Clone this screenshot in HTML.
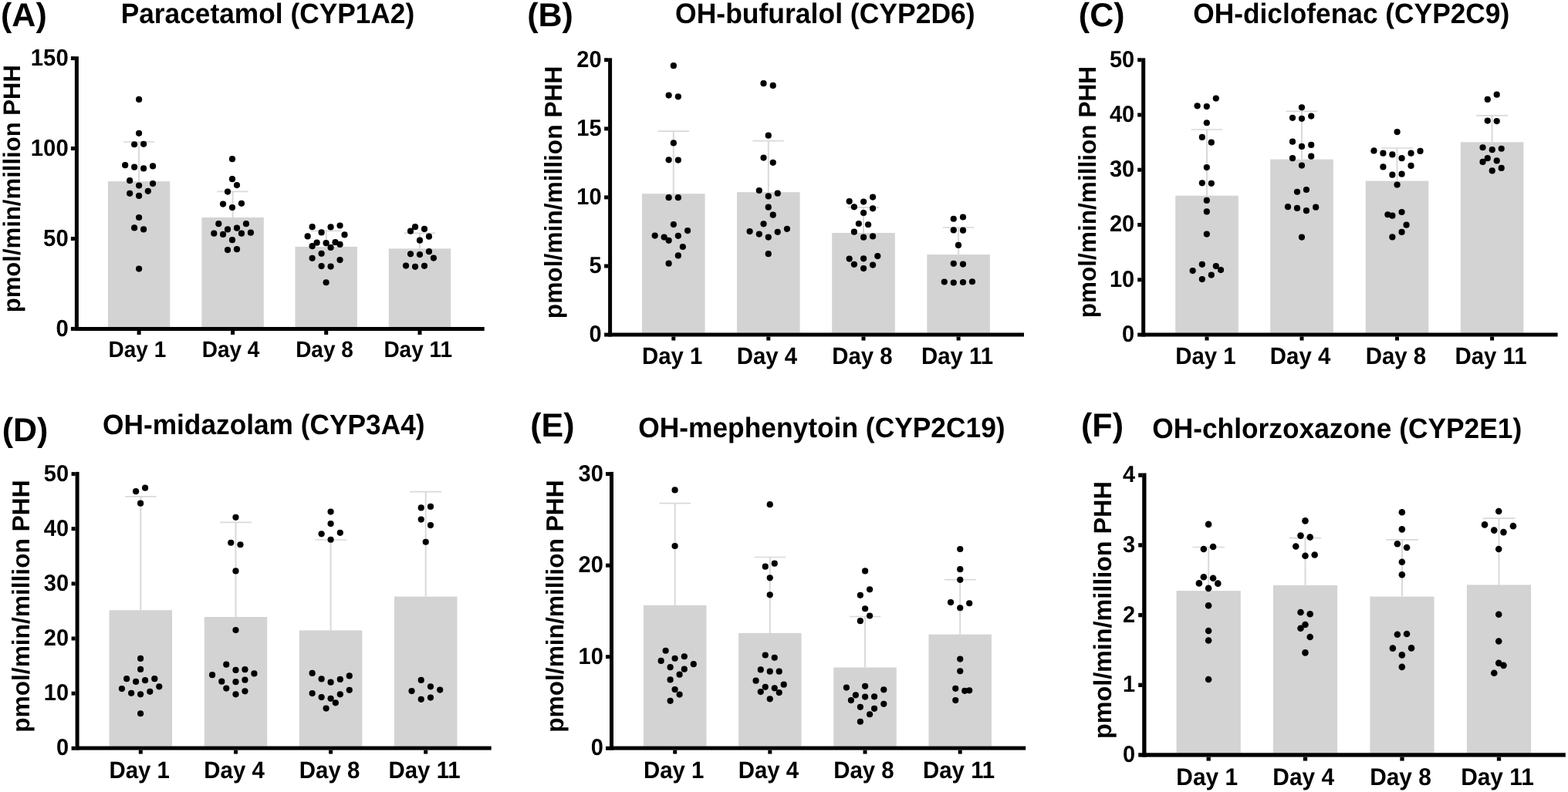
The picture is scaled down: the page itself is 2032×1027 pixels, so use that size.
<!DOCTYPE html>
<html><head><meta charset="utf-8"><style>
html,body{margin:0;padding:0;background:#fff;overflow:hidden}
svg{display:block}
text{font-family:"Liberation Sans", Arial, Helvetica, sans-serif;font-weight:bold;fill:#000;text-rendering:geometricPrecision}
</style></head><body>
<svg width="2032" height="1027" viewBox="0 0 2032 1027">
<rect width="2032" height="1027" fill="#fff"/>
<rect x="139.90" y="235.20" width="80.40" height="188.80" fill="#d3d3d3"/>
<rect x="261.40" y="282.00" width="80.40" height="142.00" fill="#d3d3d3"/>
<rect x="382.50" y="319.90" width="80.40" height="104.10" fill="#d3d3d3"/>
<rect x="503.80" y="322.40" width="80.40" height="101.60" fill="#d3d3d3"/>
<line x1="180.10" y1="235.20" x2="180.10" y2="184.00" stroke="#d9d9d9" stroke-width="2"/>
<line x1="160.00" y1="184.00" x2="200.20" y2="184.00" stroke="#d9d9d9" stroke-width="1.7"/>
<line x1="301.60" y1="282.00" x2="301.60" y2="248.30" stroke="#d9d9d9" stroke-width="2"/>
<line x1="281.50" y1="248.30" x2="321.70" y2="248.30" stroke="#d9d9d9" stroke-width="1.7"/>
<line x1="422.70" y1="319.90" x2="422.70" y2="299.30" stroke="#d9d9d9" stroke-width="2"/>
<line x1="402.60" y1="299.30" x2="442.80" y2="299.30" stroke="#d9d9d9" stroke-width="1.7"/>
<line x1="544.00" y1="322.40" x2="544.00" y2="302.40" stroke="#d9d9d9" stroke-width="2"/>
<line x1="523.90" y1="302.40" x2="564.10" y2="302.40" stroke="#d9d9d9" stroke-width="1.7"/>
<circle cx="180.10" cy="128.94" r="4.1"/>
<circle cx="180.10" cy="172.82" r="4.1"/>
<circle cx="174.12" cy="187.27" r="4.1"/>
<circle cx="186.09" cy="186.78" r="4.1"/>
<circle cx="162.16" cy="214.19" r="4.1"/>
<circle cx="174.12" cy="216.69" r="4.1"/>
<circle cx="186.09" cy="218.43" r="4.1"/>
<circle cx="198.05" cy="215.44" r="4.1"/>
<circle cx="168.14" cy="234.14" r="4.1"/>
<circle cx="180.10" cy="240.62" r="4.1"/>
<circle cx="198.05" cy="238.12" r="4.1"/>
<circle cx="168.14" cy="250.84" r="4.1"/>
<circle cx="180.10" cy="253.83" r="4.1"/>
<circle cx="191.82" cy="247.85" r="4.1"/>
<circle cx="180.10" cy="282.00" r="4.1"/>
<circle cx="174.12" cy="295.46" r="4.1"/>
<circle cx="186.09" cy="297.45" r="4.1"/>
<circle cx="180.10" cy="348.55" r="4.1"/>
<circle cx="301.00" cy="206.22" r="4.1"/>
<circle cx="301.00" cy="232.14" r="4.1"/>
<circle cx="306.98" cy="240.12" r="4.1"/>
<circle cx="295.02" cy="248.59" r="4.1"/>
<circle cx="289.03" cy="264.55" r="4.1"/>
<circle cx="301.00" cy="269.03" r="4.1"/>
<circle cx="312.96" cy="263.80" r="4.1"/>
<circle cx="283.30" cy="290.22" r="4.1"/>
<circle cx="295.02" cy="297.45" r="4.1"/>
<circle cx="306.98" cy="295.71" r="4.1"/>
<circle cx="318.95" cy="290.22" r="4.1"/>
<circle cx="277.32" cy="302.69" r="4.1"/>
<circle cx="289.03" cy="303.93" r="4.1"/>
<circle cx="312.96" cy="302.69" r="4.1"/>
<circle cx="324.93" cy="301.69" r="4.1"/>
<circle cx="301.00" cy="311.16" r="4.1"/>
<circle cx="295.02" cy="324.12" r="4.1"/>
<circle cx="306.98" cy="323.13" r="4.1"/>
<circle cx="404.65" cy="294.22" r="4.1"/>
<circle cx="428.58" cy="294.47" r="4.1"/>
<circle cx="440.54" cy="292.48" r="4.1"/>
<circle cx="416.61" cy="301.45" r="4.1"/>
<circle cx="398.67" cy="306.44" r="4.1"/>
<circle cx="446.53" cy="304.44" r="4.1"/>
<circle cx="410.63" cy="314.66" r="4.1"/>
<circle cx="422.60" cy="315.16" r="4.1"/>
<circle cx="434.56" cy="314.17" r="4.1"/>
<circle cx="404.65" cy="319.15" r="4.1"/>
<circle cx="428.58" cy="320.90" r="4.1"/>
<circle cx="440.54" cy="316.91" r="4.1"/>
<circle cx="416.61" cy="328.87" r="4.1"/>
<circle cx="404.65" cy="334.85" r="4.1"/>
<circle cx="440.54" cy="337.10" r="4.1"/>
<circle cx="416.61" cy="345.07" r="4.1"/>
<circle cx="428.58" cy="345.57" r="4.1"/>
<circle cx="422.60" cy="366.26" r="4.1"/>
<circle cx="538.01" cy="294.22" r="4.1"/>
<circle cx="532.03" cy="299.71" r="4.1"/>
<circle cx="549.97" cy="296.97" r="4.1"/>
<circle cx="555.96" cy="306.69" r="4.1"/>
<circle cx="543.99" cy="311.67" r="4.1"/>
<circle cx="532.03" cy="329.37" r="4.1"/>
<circle cx="543.99" cy="330.12" r="4.1"/>
<circle cx="555.96" cy="326.13" r="4.1"/>
<circle cx="561.94" cy="334.61" r="4.1"/>
<circle cx="526.04" cy="344.58" r="4.1"/>
<circle cx="538.01" cy="345.82" r="4.1"/>
<circle cx="549.97" cy="344.83" r="4.1"/>
<rect x="96.90" y="73.20" width="5.00" height="355.80" fill="#000"/>
<rect x="96.90" y="424.00" width="530.80" height="5.00" fill="#000"/>
<rect x="91.90" y="423.90" width="5.00" height="5.00" fill="#000"/>
<text transform="translate(72.41,435.80) scale(1,1.04)" font-size="29.3">0</text>
<rect x="91.90" y="307.00" width="5.00" height="5.00" fill="#000"/>
<text transform="translate(56.11,318.90) scale(1,1.04)" font-size="29.3">50</text>
<rect x="91.90" y="190.00" width="5.00" height="5.00" fill="#000"/>
<text transform="translate(39.82,201.90) scale(1,1.04)" font-size="29.3">100</text>
<rect x="91.90" y="73.10" width="5.00" height="5.00" fill="#000"/>
<text transform="translate(39.82,85.00) scale(1,1.04)" font-size="29.3">150</text>
<rect x="177.60" y="429.00" width="5.00" height="5.00" fill="#000"/>
<text transform="translate(140.50,463.30) scale(1,1.05)" font-size="28">Day 1</text>
<rect x="299.10" y="429.00" width="5.00" height="5.00" fill="#000"/>
<text transform="translate(261.68,463.30) scale(1,1.05)" font-size="28">Day 4</text>
<rect x="420.20" y="429.00" width="5.00" height="5.00" fill="#000"/>
<text transform="translate(383.13,463.30) scale(1,1.05)" font-size="28">Day 8</text>
<rect x="541.50" y="429.00" width="5.00" height="5.00" fill="#000"/>
<text transform="translate(497.39,463.30) scale(1,1.05)" font-size="28">Day 11</text>
<text x="1.05" y="34.10" font-size="43">(A)</text>
<text transform="translate(156.67,30.00) scale(1,1.035)" font-size="35.3">Paracetamol (CYP1A2)</text>
<text transform="translate(25.80,405.32) rotate(-90) scale(1,1.0)" font-size="31.1">pmol/min/million PHH</text>
<rect x="832.00" y="251.20" width="81.60" height="180.30" fill="#d3d3d3"/>
<rect x="955.00" y="249.20" width="81.60" height="182.30" fill="#d3d3d3"/>
<rect x="1078.20" y="302.00" width="81.60" height="129.50" fill="#d3d3d3"/>
<rect x="1201.30" y="330.10" width="81.60" height="101.40" fill="#d3d3d3"/>
<line x1="872.80" y1="251.20" x2="872.80" y2="170.20" stroke="#d9d9d9" stroke-width="2"/>
<line x1="852.40" y1="170.20" x2="893.20" y2="170.20" stroke="#d9d9d9" stroke-width="1.7"/>
<line x1="995.80" y1="249.20" x2="995.80" y2="182.70" stroke="#d9d9d9" stroke-width="2"/>
<line x1="975.40" y1="182.70" x2="1016.20" y2="182.70" stroke="#d9d9d9" stroke-width="1.7"/>
<line x1="1119.00" y1="302.00" x2="1119.00" y2="268.80" stroke="#d9d9d9" stroke-width="2"/>
<line x1="1098.60" y1="268.80" x2="1139.40" y2="268.80" stroke="#d9d9d9" stroke-width="1.7"/>
<line x1="1242.10" y1="330.10" x2="1242.10" y2="295.00" stroke="#d9d9d9" stroke-width="2"/>
<line x1="1221.70" y1="295.00" x2="1262.50" y2="295.00" stroke="#d9d9d9" stroke-width="1.7"/>
<circle cx="872.87" cy="85.21" r="4.1"/>
<circle cx="866.64" cy="123.59" r="4.1"/>
<circle cx="878.86" cy="125.34" r="4.1"/>
<circle cx="872.87" cy="185.41" r="4.1"/>
<circle cx="866.64" cy="207.35" r="4.1"/>
<circle cx="878.86" cy="207.60" r="4.1"/>
<circle cx="866.64" cy="256.20" r="4.1"/>
<circle cx="878.86" cy="256.20" r="4.1"/>
<circle cx="872.87" cy="291.10" r="4.1"/>
<circle cx="848.70" cy="305.56" r="4.1"/>
<circle cx="860.66" cy="307.55" r="4.1"/>
<circle cx="866.64" cy="311.79" r="4.1"/>
<circle cx="878.86" cy="305.81" r="4.1"/>
<circle cx="891.07" cy="299.08" r="4.1"/>
<circle cx="884.84" cy="320.02" r="4.1"/>
<circle cx="878.86" cy="331.45" r="4.1"/>
<circle cx="866.64" cy="341.67" r="4.1"/>
<circle cx="989.53" cy="108.14" r="4.1"/>
<circle cx="1001.75" cy="110.88" r="4.1"/>
<circle cx="995.76" cy="175.69" r="4.1"/>
<circle cx="989.53" cy="204.61" r="4.1"/>
<circle cx="1001.75" cy="210.84" r="4.1"/>
<circle cx="983.80" cy="246.98" r="4.1"/>
<circle cx="995.76" cy="254.46" r="4.1"/>
<circle cx="1007.73" cy="250.72" r="4.1"/>
<circle cx="995.76" cy="268.67" r="4.1"/>
<circle cx="1001.75" cy="278.64" r="4.1"/>
<circle cx="989.53" cy="290.35" r="4.1"/>
<circle cx="971.59" cy="300.08" r="4.1"/>
<circle cx="983.80" cy="303.57" r="4.1"/>
<circle cx="995.76" cy="307.55" r="4.1"/>
<circle cx="1007.73" cy="300.82" r="4.1"/>
<circle cx="1019.94" cy="296.84" r="4.1"/>
<circle cx="995.76" cy="329.21" r="4.1"/>
<circle cx="1100.66" cy="261.07" r="4.1"/>
<circle cx="1119.11" cy="261.57" r="4.1"/>
<circle cx="1131.07" cy="255.59" r="4.1"/>
<circle cx="1106.89" cy="268.30" r="4.1"/>
<circle cx="1131.07" cy="270.29" r="4.1"/>
<circle cx="1119.11" cy="276.03" r="4.1"/>
<circle cx="1112.87" cy="289.99" r="4.1"/>
<circle cx="1125.09" cy="291.23" r="4.1"/>
<circle cx="1106.89" cy="300.70" r="4.1"/>
<circle cx="1119.11" cy="307.68" r="4.1"/>
<circle cx="1131.07" cy="306.44" r="4.1"/>
<circle cx="1100.66" cy="335.60" r="4.1"/>
<circle cx="1119.11" cy="335.35" r="4.1"/>
<circle cx="1137.30" cy="332.11" r="4.1"/>
<circle cx="1106.89" cy="342.83" r="4.1"/>
<circle cx="1131.07" cy="343.58" r="4.1"/>
<circle cx="1119.11" cy="348.07" r="4.1"/>
<circle cx="1235.76" cy="283.75" r="4.1"/>
<circle cx="1247.98" cy="281.51" r="4.1"/>
<circle cx="1235.76" cy="298.46" r="4.1"/>
<circle cx="1247.98" cy="298.71" r="4.1"/>
<circle cx="1242.00" cy="317.90" r="4.1"/>
<circle cx="1235.76" cy="341.83" r="4.1"/>
<circle cx="1247.98" cy="342.58" r="4.1"/>
<circle cx="1223.80" cy="365.52" r="4.1"/>
<circle cx="1235.76" cy="366.51" r="4.1"/>
<circle cx="1247.98" cy="366.01" r="4.1"/>
<circle cx="1259.94" cy="365.27" r="4.1"/>
<rect x="788.10" y="75.30" width="5.00" height="361.20" fill="#000"/>
<rect x="788.10" y="431.50" width="538.90" height="5.00" fill="#000"/>
<rect x="783.10" y="431.55" width="5.00" height="5.00" fill="#000"/>
<text transform="translate(763.47,442.95) scale(1,1.04)" font-size="29.0">0</text>
<rect x="783.10" y="342.50" width="5.00" height="5.00" fill="#000"/>
<text transform="translate(763.47,353.90) scale(1,1.04)" font-size="29.0">5</text>
<rect x="783.10" y="253.40" width="5.00" height="5.00" fill="#000"/>
<text transform="translate(747.34,264.80) scale(1,1.04)" font-size="29.0">10</text>
<rect x="783.10" y="164.40" width="5.00" height="5.00" fill="#000"/>
<text transform="translate(747.34,175.80) scale(1,1.04)" font-size="29.0">15</text>
<rect x="783.10" y="75.20" width="5.00" height="5.00" fill="#000"/>
<text transform="translate(747.34,86.60) scale(1,1.04)" font-size="29.0">20</text>
<rect x="870.30" y="436.50" width="5.00" height="5.00" fill="#000"/>
<text transform="translate(832.00,472.00) scale(1,1.05)" font-size="29.4">Day 1</text>
<rect x="993.30" y="436.50" width="5.00" height="5.00" fill="#000"/>
<text transform="translate(954.67,472.00) scale(1,1.05)" font-size="29.4">Day 4</text>
<rect x="1116.50" y="436.50" width="5.00" height="5.00" fill="#000"/>
<text transform="translate(1078.24,472.00) scale(1,1.05)" font-size="29.4">Day 8</text>
<rect x="1239.60" y="436.50" width="5.00" height="5.00" fill="#000"/>
<text transform="translate(1193.95,472.00) scale(1,1.05)" font-size="29.4">Day 11</text>
<text x="683.25" y="34.40" font-size="43">(B)</text>
<text transform="translate(875.08,30.40) scale(1,1.035)" font-size="35.5">OH-bufuralol (CYP2D6)</text>
<text transform="translate(728.30,413.16) rotate(-90) scale(1,1.0)" font-size="31.7">pmol/min/million PHH</text>
<rect x="1523.20" y="253.70" width="81.60" height="177.80" fill="#d3d3d3"/>
<rect x="1646.20" y="206.60" width="81.60" height="224.90" fill="#d3d3d3"/>
<rect x="1769.70" y="234.60" width="81.60" height="196.90" fill="#d3d3d3"/>
<rect x="1892.80" y="184.30" width="81.60" height="247.20" fill="#d3d3d3"/>
<line x1="1564.00" y1="253.70" x2="1564.00" y2="168.00" stroke="#d9d9d9" stroke-width="2"/>
<line x1="1543.60" y1="168.00" x2="1584.40" y2="168.00" stroke="#d9d9d9" stroke-width="1.7"/>
<line x1="1687.00" y1="206.60" x2="1687.00" y2="144.30" stroke="#d9d9d9" stroke-width="2"/>
<line x1="1666.60" y1="144.30" x2="1707.40" y2="144.30" stroke="#d9d9d9" stroke-width="1.7"/>
<line x1="1810.50" y1="234.60" x2="1810.50" y2="192.00" stroke="#d9d9d9" stroke-width="2"/>
<line x1="1790.10" y1="192.00" x2="1830.90" y2="192.00" stroke="#d9d9d9" stroke-width="1.7"/>
<line x1="1933.60" y1="184.30" x2="1933.60" y2="149.90" stroke="#d9d9d9" stroke-width="2"/>
<line x1="1913.20" y1="149.90" x2="1954.00" y2="149.90" stroke="#d9d9d9" stroke-width="1.7"/>
<circle cx="1575.81" cy="127.61" r="4.1"/>
<circle cx="1551.63" cy="137.33" r="4.1"/>
<circle cx="1563.84" cy="138.08" r="4.1"/>
<circle cx="1563.84" cy="159.27" r="4.1"/>
<circle cx="1557.86" cy="177.96" r="4.1"/>
<circle cx="1569.82" cy="184.69" r="4.1"/>
<circle cx="1563.84" cy="217.10" r="4.1"/>
<circle cx="1557.86" cy="237.29" r="4.1"/>
<circle cx="1569.82" cy="237.79" r="4.1"/>
<circle cx="1563.84" cy="259.97" r="4.1"/>
<circle cx="1563.84" cy="274.43" r="4.1"/>
<circle cx="1563.84" cy="303.59" r="4.1"/>
<circle cx="1557.86" cy="342.83" r="4.1"/>
<circle cx="1575.81" cy="345.07" r="4.1"/>
<circle cx="1582.04" cy="350.06" r="4.1"/>
<circle cx="1545.65" cy="351.06" r="4.1"/>
<circle cx="1569.82" cy="356.54" r="4.1"/>
<circle cx="1557.86" cy="362.03" r="4.1"/>
<circle cx="1686.98" cy="139.33" r="4.1"/>
<circle cx="1675.02" cy="152.79" r="4.1"/>
<circle cx="1686.98" cy="153.78" r="4.1"/>
<circle cx="1699.20" cy="150.54" r="4.1"/>
<circle cx="1675.02" cy="183.70" r="4.1"/>
<circle cx="1686.98" cy="189.93" r="4.1"/>
<circle cx="1699.20" cy="187.93" r="4.1"/>
<circle cx="1675.02" cy="205.13" r="4.1"/>
<circle cx="1699.20" cy="202.64" r="4.1"/>
<circle cx="1686.98" cy="214.61" r="4.1"/>
<circle cx="1681.00" cy="248.76" r="4.1"/>
<circle cx="1692.96" cy="246.01" r="4.1"/>
<circle cx="1669.03" cy="268.20" r="4.1"/>
<circle cx="1681.00" cy="269.94" r="4.1"/>
<circle cx="1692.96" cy="273.18" r="4.1"/>
<circle cx="1705.18" cy="268.70" r="4.1"/>
<circle cx="1686.98" cy="307.58" r="4.1"/>
<circle cx="1810.60" cy="171.04" r="4.1"/>
<circle cx="1780.44" cy="195.47" r="4.1"/>
<circle cx="1792.41" cy="198.71" r="4.1"/>
<circle cx="1804.37" cy="200.46" r="4.1"/>
<circle cx="1816.58" cy="205.19" r="4.1"/>
<circle cx="1828.55" cy="198.71" r="4.1"/>
<circle cx="1840.51" cy="195.97" r="4.1"/>
<circle cx="1792.41" cy="216.41" r="4.1"/>
<circle cx="1828.55" cy="214.91" r="4.1"/>
<circle cx="1804.37" cy="226.63" r="4.1"/>
<circle cx="1816.58" cy="225.63" r="4.1"/>
<circle cx="1810.60" cy="239.59" r="4.1"/>
<circle cx="1798.39" cy="278.23" r="4.1"/>
<circle cx="1804.37" cy="279.72" r="4.1"/>
<circle cx="1816.58" cy="274.99" r="4.1"/>
<circle cx="1822.57" cy="291.69" r="4.1"/>
<circle cx="1816.58" cy="300.91" r="4.1"/>
<circle cx="1804.37" cy="307.39" r="4.1"/>
<circle cx="1927.76" cy="128.92" r="4.1"/>
<circle cx="1939.72" cy="122.68" r="4.1"/>
<circle cx="1927.76" cy="156.58" r="4.1"/>
<circle cx="1939.72" cy="157.08" r="4.1"/>
<circle cx="1921.53" cy="191.23" r="4.1"/>
<circle cx="1933.74" cy="194.22" r="4.1"/>
<circle cx="1945.71" cy="192.73" r="4.1"/>
<circle cx="1927.76" cy="205.19" r="4.1"/>
<circle cx="1921.53" cy="209.93" r="4.1"/>
<circle cx="1939.72" cy="208.43" r="4.1"/>
<circle cx="1945.71" cy="217.90" r="4.1"/>
<circle cx="1933.74" cy="221.39" r="4.1"/>
<rect x="1479.20" y="75.30" width="5.00" height="361.20" fill="#000"/>
<rect x="1479.20" y="431.50" width="539.40" height="5.00" fill="#000"/>
<rect x="1474.20" y="431.55" width="5.00" height="5.00" fill="#000"/>
<text transform="translate(1454.06,442.95) scale(1,1.04)" font-size="29.0">0</text>
<rect x="1474.20" y="360.28" width="5.00" height="5.00" fill="#000"/>
<text transform="translate(1437.94,371.68) scale(1,1.04)" font-size="29.0">10</text>
<rect x="1474.20" y="289.00" width="5.00" height="5.00" fill="#000"/>
<text transform="translate(1437.94,300.40) scale(1,1.04)" font-size="29.0">20</text>
<rect x="1474.20" y="217.70" width="5.00" height="5.00" fill="#000"/>
<text transform="translate(1437.94,229.10) scale(1,1.04)" font-size="29.0">30</text>
<rect x="1474.20" y="146.50" width="5.00" height="5.00" fill="#000"/>
<text transform="translate(1437.94,157.90) scale(1,1.04)" font-size="29.0">40</text>
<rect x="1474.20" y="75.20" width="5.00" height="5.00" fill="#000"/>
<text transform="translate(1437.94,86.60) scale(1,1.04)" font-size="29.0">50</text>
<rect x="1561.50" y="436.50" width="5.00" height="5.00" fill="#000"/>
<text transform="translate(1523.20,471.70) scale(1,1.05)" font-size="29.4">Day 1</text>
<rect x="1684.50" y="436.50" width="5.00" height="5.00" fill="#000"/>
<text transform="translate(1645.87,471.70) scale(1,1.05)" font-size="29.4">Day 4</text>
<rect x="1808.00" y="436.50" width="5.00" height="5.00" fill="#000"/>
<text transform="translate(1769.74,471.70) scale(1,1.05)" font-size="29.4">Day 8</text>
<rect x="1931.10" y="436.50" width="5.00" height="5.00" fill="#000"/>
<text transform="translate(1885.45,471.70) scale(1,1.05)" font-size="29.4">Day 11</text>
<text x="1397.85" y="34.40" font-size="43">(C)</text>
<text transform="translate(1546.29,30.10) scale(1,1.035)" font-size="35.3">OH-diclofenac (CYP2C9)</text>
<text transform="translate(1419.50,412.35) rotate(-90) scale(1,1.0)" font-size="31.6">pmol/min/million PHH</text>
<rect x="141.55" y="791.20" width="81.50" height="176.40" fill="#d3d3d3"/>
<rect x="264.75" y="800.00" width="81.50" height="167.60" fill="#d3d3d3"/>
<rect x="387.85" y="817.40" width="81.50" height="150.20" fill="#d3d3d3"/>
<rect x="510.95" y="773.60" width="81.50" height="194.00" fill="#d3d3d3"/>
<line x1="182.30" y1="791.20" x2="182.30" y2="643.90" stroke="#d9d9d9" stroke-width="2"/>
<line x1="161.93" y1="643.90" x2="202.68" y2="643.90" stroke="#d9d9d9" stroke-width="1.7"/>
<line x1="305.50" y1="800.00" x2="305.50" y2="677.30" stroke="#d9d9d9" stroke-width="2"/>
<line x1="285.12" y1="677.30" x2="325.88" y2="677.30" stroke="#d9d9d9" stroke-width="1.7"/>
<line x1="428.60" y1="817.40" x2="428.60" y2="700.00" stroke="#d9d9d9" stroke-width="2"/>
<line x1="408.23" y1="700.00" x2="448.98" y2="700.00" stroke="#d9d9d9" stroke-width="1.7"/>
<line x1="551.70" y1="773.60" x2="551.70" y2="637.70" stroke="#d9d9d9" stroke-width="2"/>
<line x1="531.33" y1="637.70" x2="572.08" y2="637.70" stroke="#d9d9d9" stroke-width="1.7"/>
<circle cx="176.11" cy="637.20" r="4.1"/>
<circle cx="188.08" cy="632.71" r="4.1"/>
<circle cx="182.10" cy="652.65" r="4.1"/>
<circle cx="182.10" cy="853.97" r="4.1"/>
<circle cx="182.10" cy="867.93" r="4.1"/>
<circle cx="164.15" cy="880.15" r="4.1"/>
<circle cx="176.11" cy="883.89" r="4.1"/>
<circle cx="188.08" cy="882.14" r="4.1"/>
<circle cx="200.29" cy="880.15" r="4.1"/>
<circle cx="157.92" cy="893.11" r="4.1"/>
<circle cx="170.13" cy="898.84" r="4.1"/>
<circle cx="182.10" cy="900.34" r="4.1"/>
<circle cx="194.31" cy="896.85" r="4.1"/>
<circle cx="206.28" cy="890.37" r="4.1"/>
<circle cx="182.10" cy="925.27" r="4.1"/>
<circle cx="305.49" cy="670.85" r="4.1"/>
<circle cx="299.25" cy="703.75" r="4.1"/>
<circle cx="311.47" cy="706.25" r="4.1"/>
<circle cx="305.49" cy="740.40" r="4.1"/>
<circle cx="305.49" cy="817.08" r="4.1"/>
<circle cx="293.27" cy="861.70" r="4.1"/>
<circle cx="305.49" cy="868.93" r="4.1"/>
<circle cx="317.45" cy="868.18" r="4.1"/>
<circle cx="275.07" cy="875.16" r="4.1"/>
<circle cx="329.42" cy="873.42" r="4.1"/>
<circle cx="287.29" cy="883.64" r="4.1"/>
<circle cx="305.49" cy="884.14" r="4.1"/>
<circle cx="317.45" cy="881.64" r="4.1"/>
<circle cx="293.27" cy="892.61" r="4.1"/>
<circle cx="305.49" cy="900.34" r="4.1"/>
<circle cx="317.45" cy="896.35" r="4.1"/>
<circle cx="428.59" cy="663.62" r="4.1"/>
<circle cx="428.59" cy="679.08" r="4.1"/>
<circle cx="416.63" cy="692.29" r="4.1"/>
<circle cx="440.81" cy="690.79" r="4.1"/>
<circle cx="428.59" cy="699.77" r="4.1"/>
<circle cx="404.66" cy="872.92" r="4.1"/>
<circle cx="416.63" cy="880.40" r="4.1"/>
<circle cx="428.59" cy="884.63" r="4.1"/>
<circle cx="440.81" cy="880.90" r="4.1"/>
<circle cx="452.77" cy="876.41" r="4.1"/>
<circle cx="404.66" cy="899.09" r="4.1"/>
<circle cx="416.63" cy="904.08" r="4.1"/>
<circle cx="428.59" cy="905.82" r="4.1"/>
<circle cx="440.81" cy="900.34" r="4.1"/>
<circle cx="452.77" cy="894.85" r="4.1"/>
<circle cx="434.82" cy="911.31" r="4.1"/>
<circle cx="422.61" cy="918.54" r="4.1"/>
<circle cx="545.75" cy="658.39" r="4.1"/>
<circle cx="557.96" cy="656.89" r="4.1"/>
<circle cx="545.75" cy="673.59" r="4.1"/>
<circle cx="557.96" cy="681.07" r="4.1"/>
<circle cx="551.73" cy="702.76" r="4.1"/>
<circle cx="545.75" cy="881.89" r="4.1"/>
<circle cx="557.96" cy="890.37" r="4.1"/>
<circle cx="533.54" cy="896.10" r="4.1"/>
<circle cx="570.18" cy="894.61" r="4.1"/>
<circle cx="545.75" cy="906.82" r="4.1"/>
<circle cx="557.96" cy="904.58" r="4.1"/>
<rect x="97.60" y="611.90" width="5.00" height="360.70" fill="#000"/>
<rect x="97.60" y="967.60" width="539.10" height="5.00" fill="#000"/>
<rect x="92.60" y="967.80" width="5.00" height="5.00" fill="#000"/>
<text transform="translate(72.97,979.20) scale(1,1.04)" font-size="29.0">0</text>
<rect x="92.60" y="896.66" width="5.00" height="5.00" fill="#000"/>
<text transform="translate(56.84,908.06) scale(1,1.04)" font-size="29.0">10</text>
<rect x="92.60" y="825.50" width="5.00" height="5.00" fill="#000"/>
<text transform="translate(56.84,836.90) scale(1,1.04)" font-size="29.0">20</text>
<rect x="92.60" y="754.40" width="5.00" height="5.00" fill="#000"/>
<text transform="translate(56.84,765.80) scale(1,1.04)" font-size="29.0">30</text>
<rect x="92.60" y="683.20" width="5.00" height="5.00" fill="#000"/>
<text transform="translate(56.84,694.60) scale(1,1.04)" font-size="29.0">40</text>
<rect x="92.60" y="612.10" width="5.00" height="5.00" fill="#000"/>
<text transform="translate(56.84,623.50) scale(1,1.04)" font-size="29.0">50</text>
<rect x="179.80" y="972.60" width="5.00" height="5.00" fill="#000"/>
<text transform="translate(141.50,1008.80) scale(1,1.05)" font-size="29.4">Day 1</text>
<rect x="303.00" y="972.60" width="5.00" height="5.00" fill="#000"/>
<text transform="translate(264.37,1008.80) scale(1,1.05)" font-size="29.4">Day 4</text>
<rect x="426.10" y="972.60" width="5.00" height="5.00" fill="#000"/>
<text transform="translate(387.84,1008.80) scale(1,1.05)" font-size="29.4">Day 8</text>
<rect x="549.20" y="972.60" width="5.00" height="5.00" fill="#000"/>
<text transform="translate(503.55,1008.80) scale(1,1.05)" font-size="29.4">Day 11</text>
<text x="2.65" y="572.30" font-size="43">(D)</text>
<text transform="translate(132.99,562.80) scale(1,1.035)" font-size="35.29">OH-midazolam (CYP3A4)</text>
<text transform="translate(37.50,949.86) rotate(-90) scale(1,1.0)" font-size="31.7">pmol/min/million PHH</text>
<rect x="833.95" y="784.80" width="81.50" height="182.80" fill="#d3d3d3"/>
<rect x="957.05" y="820.90" width="81.50" height="146.70" fill="#d3d3d3"/>
<rect x="1080.25" y="865.50" width="81.50" height="102.10" fill="#d3d3d3"/>
<rect x="1203.45" y="822.70" width="81.50" height="144.90" fill="#d3d3d3"/>
<line x1="874.70" y1="784.80" x2="874.70" y2="652.70" stroke="#d9d9d9" stroke-width="2"/>
<line x1="854.33" y1="652.70" x2="895.08" y2="652.70" stroke="#d9d9d9" stroke-width="1.7"/>
<line x1="997.80" y1="820.90" x2="997.80" y2="722.50" stroke="#d9d9d9" stroke-width="2"/>
<line x1="977.42" y1="722.50" x2="1018.17" y2="722.50" stroke="#d9d9d9" stroke-width="1.7"/>
<line x1="1121.00" y1="865.50" x2="1121.00" y2="799.50" stroke="#d9d9d9" stroke-width="2"/>
<line x1="1100.62" y1="799.50" x2="1141.38" y2="799.50" stroke="#d9d9d9" stroke-width="1.7"/>
<line x1="1244.20" y1="822.70" x2="1244.20" y2="751.60" stroke="#d9d9d9" stroke-width="2"/>
<line x1="1223.83" y1="751.60" x2="1264.58" y2="751.60" stroke="#d9d9d9" stroke-width="1.7"/>
<circle cx="874.60" cy="635.45" r="4.1"/>
<circle cx="874.60" cy="707.99" r="4.1"/>
<circle cx="862.64" cy="843.75" r="4.1"/>
<circle cx="856.66" cy="856.97" r="4.1"/>
<circle cx="874.60" cy="853.73" r="4.1"/>
<circle cx="886.82" cy="851.23" r="4.1"/>
<circle cx="868.62" cy="865.19" r="4.1"/>
<circle cx="886.82" cy="867.68" r="4.1"/>
<circle cx="898.78" cy="861.20" r="4.1"/>
<circle cx="880.59" cy="874.66" r="4.1"/>
<circle cx="868.62" cy="881.39" r="4.1"/>
<circle cx="874.60" cy="894.11" r="4.1"/>
<circle cx="880.59" cy="900.59" r="4.1"/>
<circle cx="868.62" cy="908.81" r="4.1"/>
<circle cx="997.74" cy="654.15" r="4.1"/>
<circle cx="991.76" cy="734.66" r="4.1"/>
<circle cx="1003.73" cy="730.68" r="4.1"/>
<circle cx="997.74" cy="749.37" r="4.1"/>
<circle cx="997.74" cy="771.31" r="4.1"/>
<circle cx="991.76" cy="849.49" r="4.1"/>
<circle cx="1003.73" cy="852.73" r="4.1"/>
<circle cx="985.78" cy="868.43" r="4.1"/>
<circle cx="997.74" cy="870.68" r="4.1"/>
<circle cx="1009.71" cy="870.68" r="4.1"/>
<circle cx="979.55" cy="882.64" r="4.1"/>
<circle cx="991.76" cy="890.87" r="4.1"/>
<circle cx="1003.73" cy="892.36" r="4.1"/>
<circle cx="1015.69" cy="887.63" r="4.1"/>
<circle cx="985.78" cy="897.10" r="4.1"/>
<circle cx="1009.71" cy="898.10" r="4.1"/>
<circle cx="997.74" cy="906.32" r="4.1"/>
<circle cx="1121.10" cy="740.40" r="4.1"/>
<circle cx="1127.08" cy="764.33" r="4.1"/>
<circle cx="1114.87" cy="771.81" r="4.1"/>
<circle cx="1121.10" cy="789.25" r="4.1"/>
<circle cx="1127.08" cy="798.48" r="4.1"/>
<circle cx="1114.87" cy="805.21" r="4.1"/>
<circle cx="1096.92" cy="891.61" r="4.1"/>
<circle cx="1121.10" cy="889.87" r="4.1"/>
<circle cx="1145.28" cy="894.36" r="4.1"/>
<circle cx="1108.89" cy="901.34" r="4.1"/>
<circle cx="1121.10" cy="903.58" r="4.1"/>
<circle cx="1133.07" cy="903.33" r="4.1"/>
<circle cx="1102.90" cy="908.07" r="4.1"/>
<circle cx="1145.28" cy="912.80" r="4.1"/>
<circle cx="1114.87" cy="916.79" r="4.1"/>
<circle cx="1133.07" cy="918.78" r="4.1"/>
<circle cx="1127.08" cy="926.26" r="4.1"/>
<circle cx="1114.87" cy="935.74" r="4.1"/>
<circle cx="1244.24" cy="711.98" r="4.1"/>
<circle cx="1244.24" cy="738.15" r="4.1"/>
<circle cx="1244.24" cy="751.86" r="4.1"/>
<circle cx="1232.03" cy="781.03" r="4.1"/>
<circle cx="1256.20" cy="782.27" r="4.1"/>
<circle cx="1244.24" cy="788.26" r="4.1"/>
<circle cx="1244.24" cy="854.56" r="4.1"/>
<circle cx="1244.24" cy="870.27" r="4.1"/>
<circle cx="1238.26" cy="892.86" r="4.1"/>
<circle cx="1250.22" cy="895.85" r="4.1"/>
<circle cx="1256.20" cy="895.35" r="4.1"/>
<circle cx="1238.26" cy="908.07" r="4.1"/>
<rect x="790.00" y="611.90" width="5.00" height="360.70" fill="#000"/>
<rect x="790.00" y="967.60" width="539.20" height="5.00" fill="#000"/>
<rect x="785.00" y="967.80" width="5.00" height="5.00" fill="#000"/>
<text transform="translate(765.67,979.20) scale(1,1.04)" font-size="29.0">0</text>
<rect x="785.00" y="849.20" width="5.00" height="5.00" fill="#000"/>
<text transform="translate(749.54,860.60) scale(1,1.04)" font-size="29.0">10</text>
<rect x="785.00" y="730.70" width="5.00" height="5.00" fill="#000"/>
<text transform="translate(749.54,742.10) scale(1,1.04)" font-size="29.0">20</text>
<rect x="785.00" y="612.10" width="5.00" height="5.00" fill="#000"/>
<text transform="translate(749.54,623.50) scale(1,1.04)" font-size="29.0">30</text>
<rect x="872.20" y="972.60" width="5.00" height="5.00" fill="#000"/>
<text transform="translate(833.90,1008.80) scale(1,1.05)" font-size="29.4">Day 1</text>
<rect x="995.30" y="972.60" width="5.00" height="5.00" fill="#000"/>
<text transform="translate(956.67,1008.80) scale(1,1.05)" font-size="29.4">Day 4</text>
<rect x="1118.50" y="972.60" width="5.00" height="5.00" fill="#000"/>
<text transform="translate(1080.24,1008.80) scale(1,1.05)" font-size="29.4">Day 8</text>
<rect x="1241.70" y="972.60" width="5.00" height="5.00" fill="#000"/>
<text transform="translate(1196.05,1008.80) scale(1,1.05)" font-size="29.4">Day 11</text>
<text x="687.25" y="565.90" font-size="43">(E)</text>
<text transform="translate(827.19,567.40) scale(1,1.035)" font-size="35.37">OH-mephenytoin (CYP2C19)</text>
<text transform="translate(729.80,949.86) rotate(-90) scale(1,1.0)" font-size="31.7">pmol/min/million PHH</text>
<rect x="1524.60" y="766.10" width="83.20" height="210.20" fill="#d3d3d3"/>
<rect x="1649.90" y="758.90" width="83.20" height="217.40" fill="#d3d3d3"/>
<rect x="1775.40" y="773.60" width="83.20" height="202.70" fill="#d3d3d3"/>
<rect x="1900.90" y="758.40" width="83.20" height="217.90" fill="#d3d3d3"/>
<line x1="1566.20" y1="766.10" x2="1566.20" y2="709.50" stroke="#d9d9d9" stroke-width="2"/>
<line x1="1545.40" y1="709.50" x2="1587.00" y2="709.50" stroke="#d9d9d9" stroke-width="1.7"/>
<line x1="1691.50" y1="758.90" x2="1691.50" y2="697.60" stroke="#d9d9d9" stroke-width="2"/>
<line x1="1670.70" y1="697.60" x2="1712.30" y2="697.60" stroke="#d9d9d9" stroke-width="1.7"/>
<line x1="1817.00" y1="773.60" x2="1817.00" y2="699.80" stroke="#d9d9d9" stroke-width="2"/>
<line x1="1796.20" y1="699.80" x2="1837.80" y2="699.80" stroke="#d9d9d9" stroke-width="1.7"/>
<line x1="1942.50" y1="758.40" x2="1942.50" y2="672.20" stroke="#d9d9d9" stroke-width="2"/>
<line x1="1921.70" y1="672.20" x2="1963.30" y2="672.20" stroke="#d9d9d9" stroke-width="1.7"/>
<circle cx="1566.10" cy="679.88" r="4.3"/>
<circle cx="1559.87" cy="712.04" r="4.3"/>
<circle cx="1572.08" cy="709.05" r="4.3"/>
<circle cx="1559.87" cy="748.18" r="4.3"/>
<circle cx="1572.08" cy="749.68" r="4.3"/>
<circle cx="1553.89" cy="756.41" r="4.3"/>
<circle cx="1578.31" cy="756.66" r="4.3"/>
<circle cx="1566.10" cy="762.89" r="4.3"/>
<circle cx="1566.10" cy="785.32" r="4.3"/>
<circle cx="1566.10" cy="817.98" r="4.3"/>
<circle cx="1566.10" cy="830.44" r="4.3"/>
<circle cx="1566.10" cy="881.04" r="4.3"/>
<circle cx="1691.48" cy="675.40" r="4.3"/>
<circle cx="1685.50" cy="694.59" r="4.3"/>
<circle cx="1697.71" cy="696.58" r="4.3"/>
<circle cx="1679.27" cy="708.55" r="4.3"/>
<circle cx="1691.48" cy="720.76" r="4.3"/>
<circle cx="1703.70" cy="719.52" r="4.3"/>
<circle cx="1685.50" cy="794.05" r="4.3"/>
<circle cx="1697.71" cy="796.29" r="4.3"/>
<circle cx="1691.48" cy="810.00" r="4.3"/>
<circle cx="1685.50" cy="814.74" r="4.3"/>
<circle cx="1697.71" cy="825.96" r="4.3"/>
<circle cx="1691.48" cy="846.40" r="4.3"/>
<circle cx="1816.85" cy="664.18" r="4.3"/>
<circle cx="1816.85" cy="686.36" r="4.3"/>
<circle cx="1810.87" cy="705.31" r="4.3"/>
<circle cx="1823.08" cy="710.04" r="4.3"/>
<circle cx="1816.85" cy="728.74" r="4.3"/>
<circle cx="1816.85" cy="745.19" r="4.3"/>
<circle cx="1810.87" cy="822.71" r="4.3"/>
<circle cx="1823.08" cy="821.97" r="4.3"/>
<circle cx="1804.88" cy="840.66" r="4.3"/>
<circle cx="1829.06" cy="840.41" r="4.3"/>
<circle cx="1816.85" cy="849.39" r="4.3"/>
<circle cx="1816.85" cy="864.84" r="4.3"/>
<circle cx="1942.23" cy="662.93" r="4.3"/>
<circle cx="1924.03" cy="680.38" r="4.3"/>
<circle cx="1936.25" cy="687.61" r="4.3"/>
<circle cx="1948.46" cy="690.10" r="4.3"/>
<circle cx="1960.93" cy="682.13" r="4.3"/>
<circle cx="1942.23" cy="712.04" r="4.3"/>
<circle cx="1942.23" cy="796.79" r="4.3"/>
<circle cx="1942.23" cy="831.44" r="4.3"/>
<circle cx="1942.23" cy="859.86" r="4.3"/>
<circle cx="1948.46" cy="862.85" r="4.3"/>
<circle cx="1936.25" cy="872.82" r="4.3"/>
<rect x="1480.20" y="613.50" width="5.30" height="368.10" fill="#000"/>
<rect x="1480.20" y="976.30" width="548.60" height="5.30" fill="#000"/>
<rect x="1475.20" y="976.30" width="5.00" height="5.30" fill="#000"/>
<text transform="translate(1455.06,987.85) scale(1,1.04)" font-size="29.0">0</text>
<rect x="1475.20" y="885.65" width="5.00" height="5.30" fill="#000"/>
<text transform="translate(1455.06,897.20) scale(1,1.04)" font-size="29.0">1</text>
<rect x="1475.20" y="794.95" width="5.00" height="5.30" fill="#000"/>
<text transform="translate(1455.06,806.50) scale(1,1.04)" font-size="29.0">2</text>
<rect x="1475.20" y="704.25" width="5.00" height="5.30" fill="#000"/>
<text transform="translate(1455.06,715.80) scale(1,1.04)" font-size="29.0">3</text>
<rect x="1475.20" y="613.55" width="5.00" height="5.30" fill="#000"/>
<text transform="translate(1455.06,625.10) scale(1,1.04)" font-size="29.0">4</text>
<rect x="1563.55" y="981.60" width="5.30" height="5.00" fill="#000"/>
<text transform="translate(1524.32,1017.80) scale(1,1.05)" font-size="29.9">Day 1</text>
<rect x="1688.85" y="981.60" width="5.30" height="5.00" fill="#000"/>
<text transform="translate(1649.29,1017.80) scale(1,1.05)" font-size="29.9">Day 4</text>
<rect x="1814.35" y="981.60" width="5.30" height="5.00" fill="#000"/>
<text transform="translate(1775.16,1017.80) scale(1,1.05)" font-size="29.9">Day 8</text>
<rect x="1939.85" y="981.60" width="5.30" height="5.00" fill="#000"/>
<text transform="translate(1893.15,1017.80) scale(1,1.05)" font-size="29.9">Day 11</text>
<text x="1401.05" y="566.20" font-size="43">(F)</text>
<text transform="translate(1493.19,567.65) scale(1,1.035)" font-size="35.35">OH-chlorzoxazone (CYP2E1)</text>
<text transform="translate(1440.00,958.00) rotate(-90) scale(1,1.0)" font-size="32.3">pmol/min/million PHH</text>
</svg>
</body></html>
